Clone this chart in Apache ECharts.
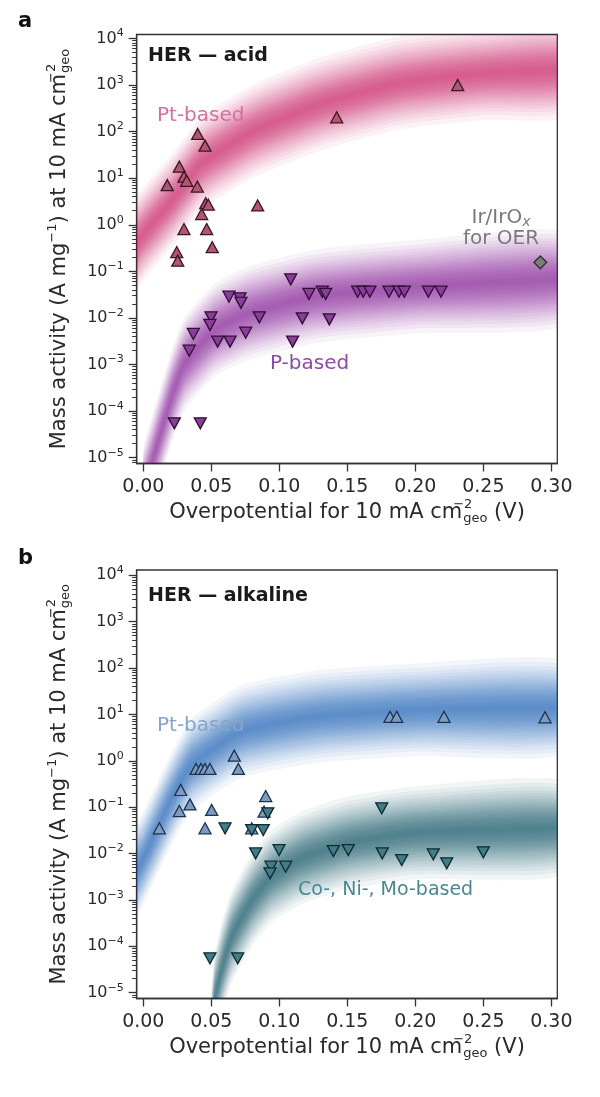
<!DOCTYPE html>
<html><head><meta charset="utf-8">
<script src="https://cdn.jsdelivr.net/npm/echarts@6/dist/echarts.min.js"></script>
<style>html,body{margin:0;padding:0;background:#fff}#c{width:600px;height:1097px}</style>
</head><body><div id="c"></div>
<script>
// ---------- data ----------
const xTicks = [0, 0.05, 0.1, 0.15, 0.2, 0.25, 0.3];
const yTickExps = [-5, -4, -3, -2, -1, 0, 1, 2, 3, 4];

// panel a: HER acid
const ptAcidX = [0.2312, 0.1422, 0.0400, 0.0454, 0.0265, 0.0176, 0.0299, 0.0319, 0.0397, 0.0459, 0.0478, 0.0429, 0.0841, 0.0299, 0.0466, 0.0507, 0.0246, 0.0253];
const ptAcidY = [1000, 203, 89, 50, 17.6, 7.1, 10.8, 8.8, 6.6, 2.9, 2.7, 1.7, 2.6, 0.81, 0.81, 0.33, 0.26, 0.17];
const pAcidX = [0.1084, 0.0630, 0.0711, 0.0718, 0.1218, 0.1316, 0.1341, 0.1576, 0.1617, 0.1666, 0.1807, 0.1880, 0.1919, 0.2096, 0.2189, 0.0498, 0.0490, 0.0853, 0.1169, 0.1368, 0.0368, 0.0338, 0.0547, 0.0638, 0.0753, 0.1098, 0.0228, 0.0419];
const pAcidY = [0.0675, 0.0286, 0.0264, 0.0212, 0.0327, 0.0366, 0.0327, 0.0366, 0.0366, 0.0366, 0.0366, 0.0366, 0.0366, 0.0366, 0.0366, 0.0103, 0.00706, 0.0103, 0.00982, 0.00933, 0.00453, 0.00198, 0.00310, 0.00310, 0.00483, 0.00310, 0.0000547, 0.0000547];
const irX = [0.2919];
const irY = [0.156];

// panel b: HER alkaline
const ptAlkX = [0.1814, 0.1863, 0.2211, 0.2954, 0.0669, 0.0699, 0.0388, 0.0424, 0.0454, 0.0490, 0.0275, 0.0265, 0.0343, 0.0503, 0.0118, 0.0454, 0.0900, 0.0888, 0.0797];
const ptAlkY = [8.9, 8.9, 8.9, 8.7, 1.29, 0.667, 0.667, 0.667, 0.667, 0.667, 0.235, 0.0828, 0.115, 0.0871, 0.0351, 0.0351, 0.174, 0.080, 0.0351];
const coNiMoX = [0.0601, 0.0797, 0.0882, 0.0915, 0.1753, 0.0826, 0.0998, 0.0939, 0.0932, 0.1047, 0.1397, 0.1507, 0.1757, 0.1900, 0.2132, 0.2231, 0.2500, 0.0490, 0.0694];
const coNiMoY = [0.0351, 0.0322, 0.0322, 0.0738, 0.0946, 0.0101, 0.0119, 0.00521, 0.00376, 0.00521, 0.01135, 0.0119, 0.0101, 0.00726, 0.00964, 0.00617, 0.01064, 0.0000551, 0.0000551];

// trend bands (centre lines)
const pinkBandX = [-0.01, 0.0, 0.0233, 0.0429, 0.0821, 0.131, 0.1875, 0.25, 0.31];
const pinkBandY = [0.263, 0.631, 3.98, 20.9, 107, 398, 1096, 1778, 2138];
const purpleBandX = [0.0, 0.0065, 0.0209, 0.0307, 0.0527, 0.0772, 0.126, 0.2, 0.31];
const purpleBandY = [1.58e-6, 7.9e-6, 2.04e-4, 1.07e-3, 5.5e-3, 0.0126, 0.0288, 0.0470, 0.0700];
const blueBandX = [-0.01, 0.0, 0.0209, 0.0355, 0.072, 0.126, 0.2, 0.31];
const blueBandY = [2.5e-3, 7.9e-3, 0.155, 0.813, 4.27, 8.9, 12.6, 14.1];
const tealBandX = [0.050, 0.0527, 0.0576, 0.065, 0.080, 0.094, 0.116, 0.150, 0.199, 0.31];
const tealBandY = [1e-6, 7.6e-6, 3.16e-5, 1.58e-4, 1e-3, 3.16e-3, 7.94e-3, 0.0170, 0.0280, 0.0360];

// ---------- chart ----------
const FONT = 'DejaVu Sans';
const AX = '#333333';
const TXT = '#2a2a2a';
const lg = v => Math.log10(v);
const pts = (xs, ys) => xs.map((x, i) => [x, lg(ys[i])]);

const minorExps = [];
for (let n = -6; n <= 4; n++) for (let k = 2; k <= 9; k++) minorExps.push(n + Math.log10(k));

// half-widths (decades) of the nested translucent layers forming each soft band
const bandLevels = [1.0, 0.9, 0.82, 0.75, 0.69, 0.63, 0.58, 0.53, 0.48, 0.44, 0.4, 0.36, 0.32, 0.28, 0.24, 0.2, 0.15, 0.1, 0.05];
function band(xs, ys, rgb, xi, yi) {
  return {
    type: 'custom', xAxisIndex: xi, yAxisIndex: yi, silent: true, z: 1,
    data: bandLevels.map(d => [d]),
    encode: { x: -1, y: -1 },
    renderItem: function (params, api) {
      const d = api.value(0);
      const up = xs.map((x, i) => api.coord([x, lg(ys[i]) + d]));
      const lo = xs.map((x, i) => api.coord([x, lg(ys[i]) - d])).reverse();
      const cs = params.coordSys;
      return {
        type: 'polygon',
        shape: { points: up.concat(lo), smooth: 0.18 },
        style: { fill: 'rgba(' + rgb + ',0.056)' },
        clipPath: { type: 'rect', shape: { x: cs.x, y: cs.y, width: cs.width, height: cs.height } }
      };
    }
  };
}

const nameRich = {
  t: { fontFamily: FONT, fontSize: 21, color: TXT, lineHeight: 30 },
  s: { fontFamily: FONT, fontSize: 13, color: TXT, padding: [0, 0, 14, 0] },
  s2: { fontFamily: FONT, fontSize: 13, color: TXT, width: 1, padding: [0, 0, 16, 0] },
  g: { fontFamily: FONT, fontSize: 13, color: TXT, padding: [12, 0, 0, 0] }
};
const yName = '{t|Mass activity (A mg}{s|\u22121}{t|) at 10 mA cm}{s2|\u22122}{g|geo}';
const xName = '{t|Overpotential for 10 mA cm}{s2|\u22122}{g|geo}{t| (V)}';

function xAxisDef(gi) {
  return {
    gridIndex: gi, type: 'value', min: -0.00485, max: 0.3044,
    axisLine: { show: true, onZero: false, lineStyle: { color: AX, width: 1.3 } },
    axisTick: { show: true, customValues: xTicks, length: 8, lineStyle: { color: AX, width: 1.3 } },
    axisLabel: { customValues: xTicks, formatter: v => v.toFixed(2), fontFamily: FONT, fontSize: 19, color: TXT, margin: 14 },
    splitLine: { show: false },
    name: xName, nameLocation: 'middle', nameGap: 34, nameTextStyle: { rich: nameRich }
  };
}
function yAxisMajor(gi, mn, mx) {
  return {
    gridIndex: gi, type: 'value', min: mn, max: mx,
    axisLine: { show: true, onZero: false, lineStyle: { color: AX, width: 1.3 } },
    axisTick: { show: true, customValues: yTickExps, length: 8, lineStyle: { color: AX, width: 1.3 } },
    axisLabel: {
      customValues: yTickExps, margin: 13,
      formatter: v => { const e = Math.round(v); return '{b|10}{e|' + (e < 0 ? '\u2212' + (-e) : e) + '}'; },
      rich: {
        b: { fontFamily: FONT, fontSize: 16, color: TXT },
        e: { fontFamily: FONT, fontSize: 11, color: TXT, padding: [0, 0, 10, 0] }
      }
    },
    splitLine: { show: false },
    name: yName, nameLocation: 'middle', nameRotate: 90, nameGap: 62, nameTextStyle: { rich: nameRich }
  };
}
function yAxisMinor(gi, mn, mx) {
  return {
    gridIndex: gi, type: 'value', min: mn, max: mx, position: 'left', offset: 0,
    axisLine: { show: false, onZero: false },
    axisTick: { show: true, customValues: minorExps.filter(v => v > mn && v < mx), length: 4.5, lineStyle: { color: AX, width: 1 } },
    axisLabel: { show: false }, splitLine: { show: false }
  };
}

function scatter(xs, ys, xi, yi, symbol, rot, fill, stroke, size) {
  return {
    type: 'scatter', xAxisIndex: xi, yAxisIndex: yi, z: 5, silent: true,
    symbol: symbol, symbolRotate: rot, symbolSize: size,
    data: pts(xs, ys),
    itemStyle: { color: fill, borderColor: stroke, borderWidth: 1.3, opacity: 1 }
  };
}

const series = [
  band(pinkBandX, pinkBandY, '201,17,93', 0, 0),
  band(purpleBandX, purpleBandY, '120,10,150', 0, 0),
  band(blueBandX, blueBandY, '25,95,185', 1, 2),
  band(tealBandX, tealBandY, '0,80,98', 1, 2),
  scatter(ptAcidX, ptAcidY, 0, 0, 'triangle', 0, '#b0566f', '#3d1525', [12, 11]),
  scatter(pAcidX, pAcidY, 0, 0, 'triangle', 180, '#8b3c9c', '#2d0f35', [12, 11]),
  scatter(irX, irY, 0, 0, 'rect', 45, '#7d7d7d', '#2e2e2e', 9),
  scatter(ptAlkX, ptAlkY, 1, 2, 'triangle', 0, '#7f9cc0', '#1b3350', [12, 11]),
  scatter(coNiMoX, coNiMoY, 1, 2, 'triangle', 180, '#3f7e88', '#102a30', [12, 11])
];

function txt(x, y, text, font, fill, align, rich) {
  const style = { text: text, x: 0, y: 0, font: font, fill: fill, align: align || 'left', verticalAlign: 'middle', textAlign: align || 'left', textVerticalAlign: 'middle' };
  if (rich) style.rich = rich;
  return { type: 'text', x: x, y: y, z: 10, silent: true, style: style };
}
const irRich = {
  a: { fontFamily: FONT, fontSize: 20, color: '#7a7a7a' },
  x: { fontFamily: FONT, fontSize: 14, fontStyle: 'italic', color: '#7a7a7a', padding: [9, 0, 0, 0] }
};

const option = {
  animation: false,
  backgroundColor: '#ffffff',
  grid: [
    { left: 136.7, top: 34.5, width: 420.6, height: 429, show: true, borderColor: AX, borderWidth: 1.3, backgroundColor: '#fff' },
    { left: 136.7, top: 570, width: 420.6, height: 428.5, show: true, borderColor: AX, borderWidth: 1.3, backgroundColor: '#fff' }
  ],
  xAxis: [xAxisDef(0), xAxisDef(1)],
  yAxis: [yAxisMajor(0, -5.124, 4.084), yAxisMinor(0, -5.124, 4.084), yAxisMajor(1, -5.125, 4.115), yAxisMinor(1, -5.125, 4.115)],
  series: series,
  graphic: [
    txt(18, 22, 'a', 'bold 21px "DejaVu Sans"', '#111'),
    txt(18, 559, 'b', 'bold 21px "DejaVu Sans"', '#111'),
    txt(148, 56, 'HER \u2014 acid', 'bold 19px "DejaVu Sans"', '#1a1a1a'),
    txt(148, 596, 'HER \u2014 alkaline', 'bold 19px "DejaVu Sans"', '#1a1a1a'),
    txt(157, 116, 'Pt-based', '20px "DejaVu Sans"', '#d4709e'),
    txt(270, 364, 'P-based', '20px "DejaVu Sans"', '#8e4aa8'),
    txt(501, 218, '{a|Ir/IrO}{x|x}', '20px "DejaVu Sans"', '#7a7a7a', 'center', irRich),
    txt(501, 239, 'for OER', '20px "DejaVu Sans"', '#7a7a7a', 'center'),
    txt(157, 726, 'Pt-based', '20px "DejaVu Sans"', '#88a4c8'),
    txt(298, 890, 'Co-, Ni-, Mo-based', '19px "DejaVu Sans"', '#4b8792')
  ]
};

const chart = echarts.init(document.getElementById('c'), null, { renderer: 'canvas' });
chart.setOption(option);
</script>
</body></html>
